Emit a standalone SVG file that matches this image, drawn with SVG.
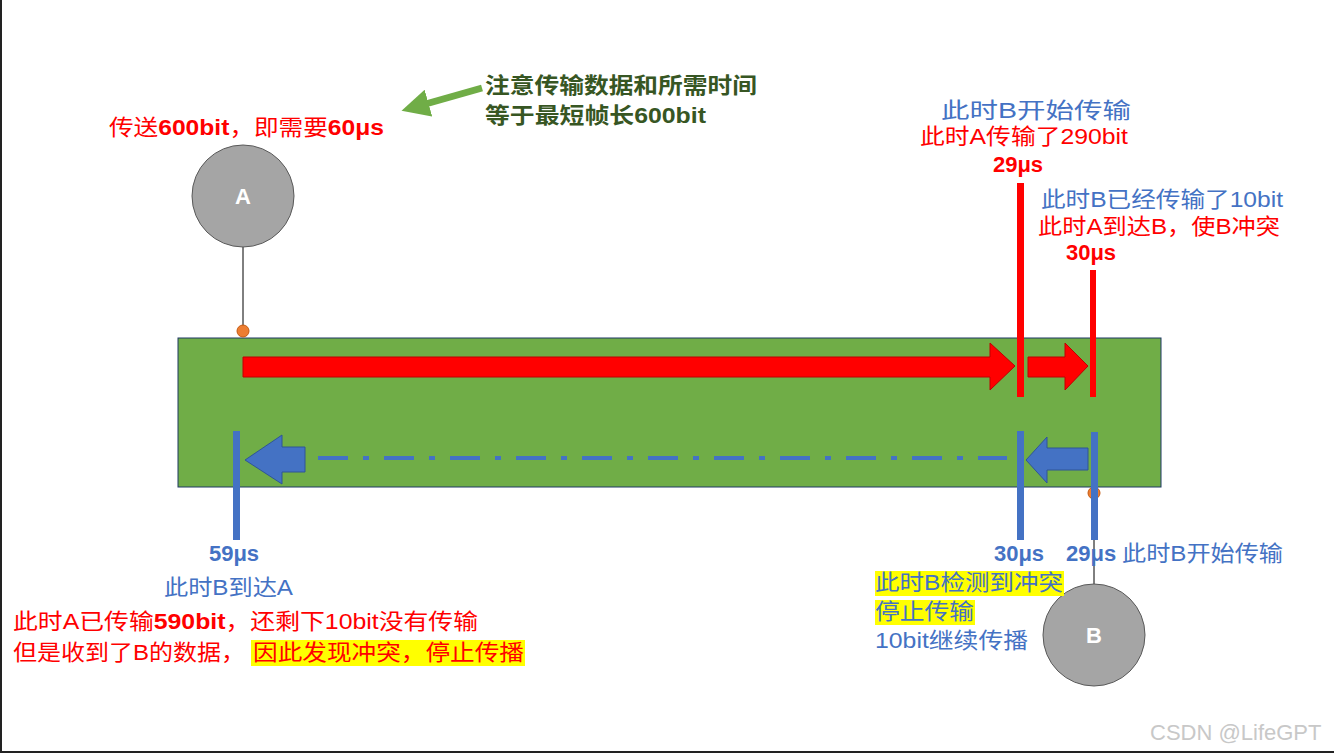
<svg xmlns="http://www.w3.org/2000/svg" width="1334" height="754" viewBox="0 0 1334 754">
<style>
text{font-family:"Liberation Sans","Noto Sans CJK SC",sans-serif;font-size:22px}
.r{fill:#FF0000}.b{fill:#4472C4}.g{fill:#375623;font-weight:bold}.bd{font-weight:bold}
.node{fill:#A5A5A5;stroke:#595959;stroke-width:1}
.dot{fill:#ED7D31;stroke:#C55A11;stroke-width:1}
</style>
<defs><marker id="gh" markerWidth="4" markerHeight="4" refX="2" refY="2" orient="auto"><path d="M0,0L4,2L0,4Z" fill="#70AD47"/></marker></defs>
<rect x="0" y="0" width="1334" height="754" fill="#fff"/>
<path d="M1,0V752H1334" fill="none" stroke="#222" stroke-width="2"/>
<rect x="178" y="338" width="983" height="149" fill="#70AD47" stroke="#1F3864" stroke-width="1"/>
<g id="connectors">
<line x1="243" y1="247" x2="243" y2="331" stroke="#000" stroke-width="1"/>
<line x1="1094" y1="540" x2="1094" y2="584" stroke="#000" stroke-width="1"/>
<line x1="482" y1="88" x2="415" y2="107" stroke="#70AD47" stroke-width="7" marker-end="url(#gh)"/>
<path d="M243,357H990V343L1015,366L990,390V377H243Z" fill="#FF0000" stroke="#C00000" stroke-width="1"/>
<path d="M1028,357H1065V343L1088,366L1065,390V377H1028Z" fill="#FF0000" stroke="#C00000" stroke-width="1"/>
<rect x="1017" y="183" width="7" height="214" fill="#FF0000"/>
<rect x="1090" y="270" width="6" height="127" fill="#FF0000"/>
<line x1="318" y1="458" x2="1007" y2="458" stroke="#4472C4" stroke-width="4" stroke-dasharray="30 15 6 15"/>
<path d="M245,460L282,435V447H305V472H282V484Z" fill="#4472C4" stroke="#2F5597" stroke-width="1"/>
<path d="M1026,460L1047,437V448H1088V470H1047V483Z" fill="#4472C4" stroke="#2F5597" stroke-width="1"/>
<rect x="233" y="431" width="7" height="109" fill="#4472C4"/>
<rect x="1017" y="431" width="7" height="109" fill="#4472C4"/>
<circle class="dot" cx="243" cy="331" r="6"/>
<circle class="dot" cx="1094" cy="493" r="6"/>
<rect x="1091" y="432" width="7" height="108" fill="#4472C4"/>
</g>
<g id="A"><circle class="node" cx="243" cy="196" r="51"/><text x="243" y="204" text-anchor="middle" fill="#fff" class="bd">A</text></g>
<g id="B"><circle class="node" cx="1094" cy="635" r="51"/><text x="1094" y="643" text-anchor="middle" fill="#fff" class="bd">B</text></g>
<g id="labels">
<text x="109" y="135" class="r" textLength="275" lengthAdjust="spacingAndGlyphs">传送<tspan class="bd">600bit</tspan>，即需要<tspan class="bd">60μs</tspan></text>
<text x="485" y="93" class="g" textLength="272" lengthAdjust="spacingAndGlyphs">注意传输数据和所需时间</text>
<text x="485" y="123" class="g" textLength="221" lengthAdjust="spacingAndGlyphs">等于最短帧长600bit</text>
<text x="941" y="118" class="b" textLength="190" lengthAdjust="spacingAndGlyphs">此时B开始传输</text>
<text x="920" y="144" class="r" textLength="208" lengthAdjust="spacingAndGlyphs">此时A传输了290bit</text>
<text x="1018" y="172" text-anchor="middle" class="r bd">29μs</text>
<text x="1041" y="207" class="b" textLength="242" lengthAdjust="spacingAndGlyphs">此时B已经传输了10bit</text>
<text x="1038" y="234" class="r" textLength="242" lengthAdjust="spacingAndGlyphs">此时A到达B，使B冲突</text>
<text x="1091" y="260" text-anchor="middle" class="r bd">30μs</text>
<text x="234" y="561" text-anchor="middle" class="b bd">59μs</text>
<text x="164" y="595" class="b" textLength="129" lengthAdjust="spacingAndGlyphs">此时B到达A</text>
<text x="13" y="629" class="r" textLength="465" lengthAdjust="spacingAndGlyphs">此时A已传输<tspan class="bd">590bit</tspan>，还剩下10bit没有传输</text>
<rect x="251" y="640" width="274" height="26" fill="#FFFF00"/>
<text x="13" y="660" class="r" textLength="232" lengthAdjust="spacingAndGlyphs">但是收到了B的数据，</text>
<text x="253" y="660" class="r" textLength="271" lengthAdjust="spacingAndGlyphs">因此发现冲突，停止传播</text>
<text x="1019" y="561" text-anchor="middle" class="b bd">30μs</text>
<text x="1066" y="561" class="b bd">29μs</text>
<text x="1122" y="561" class="b" textLength="161" lengthAdjust="spacingAndGlyphs">此时B开始传输</text>
<rect x="875" y="571" width="189" height="25" fill="#FFFF00"/>
<rect x="875" y="600" width="100" height="25" fill="#FFFF00"/>
<text x="875" y="590" class="b" textLength="188" lengthAdjust="spacingAndGlyphs">此时B检测到冲突</text>
<text x="875" y="619" class="b" textLength="99" lengthAdjust="spacingAndGlyphs">停止传输</text>
<text x="875" y="648" class="b" textLength="153" lengthAdjust="spacingAndGlyphs">10bit继续传播</text>
<text x="1150" y="740" fill="#C8C8C8">CSDN @LifeGPT</text>
</g>
</svg>
